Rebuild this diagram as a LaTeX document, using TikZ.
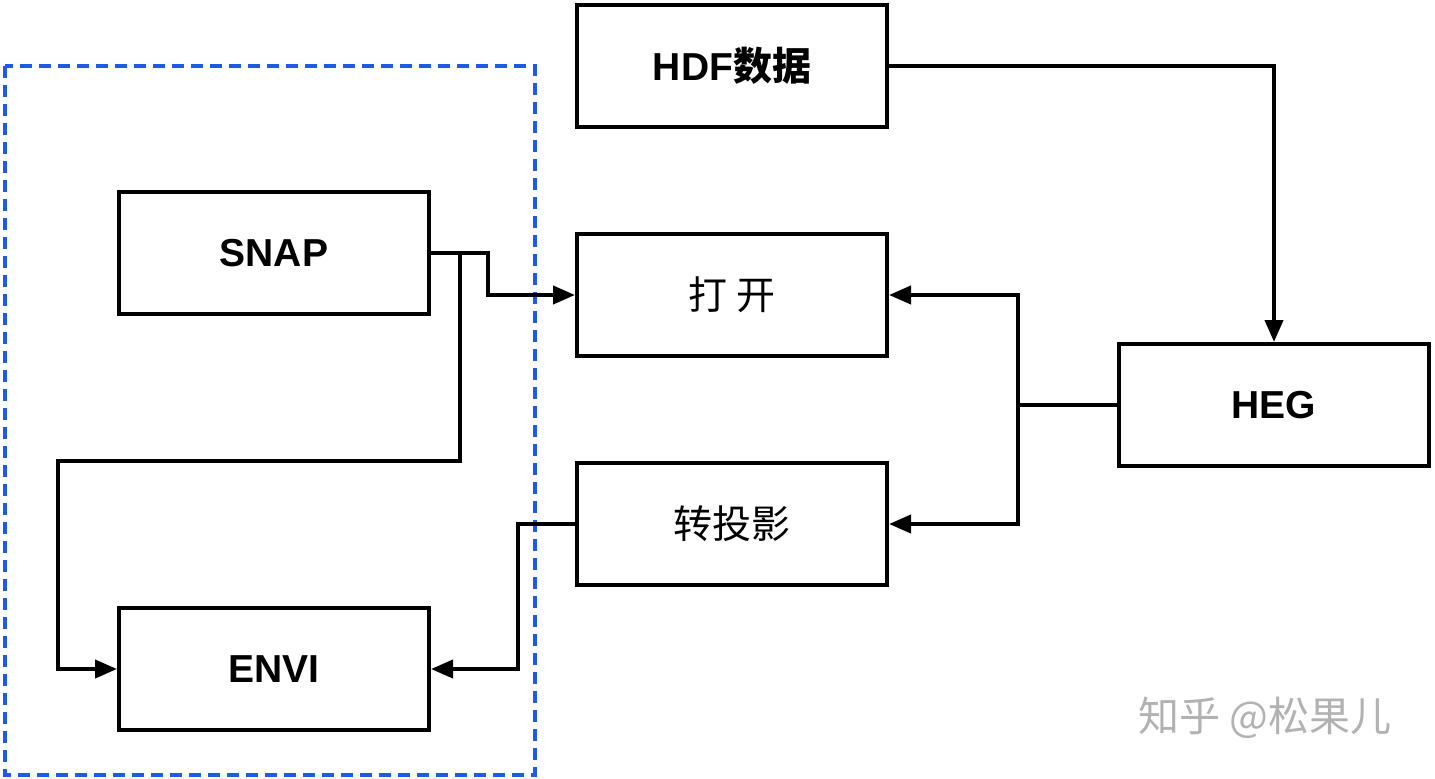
\documentclass[tikz,border=0pt]{standalone}
\usepackage{fontspec}
\setmainfont{Liberation Sans}
\newfontfamily\cjk{Noto Sans CJK SC}
\usetikzlibrary{arrows.meta}
\begin{document}
\begin{tikzpicture}[x=1pt,y=-1pt,
  box/.style={draw,line width=4pt,minimum width=310pt,minimum height=122pt,inner sep=0pt,font=\fontsize{39}{42}\selectfont\bfseries},
  cbox/.style={box,font=\fontsize{39}{42}\selectfont\cjk},
  ln/.style={line width=4pt},
  ar/.style={ln,-{Triangle[length=22pt,width=18pt]}}]
\useasboundingbox (0,0) rectangle (1435,779);
\draw[line width=4pt,dash pattern=on 12pt off 7pt,color={rgb,255:red,30;green,90;blue,230}] (5,66) rectangle (535,775);
\node[box] (hdf) at (732,66) {HDF{\cjk 数据}};
\node[box] (snap) at (274,253) {SNAP};
\node[cbox] (open) at (732,295) {打 开};
\node[box] (heg) at (1274,405) {HEG};
\node[cbox] (proj) at (732,524) {转投影};
\node[box] (envi) at (274,669) {ENVI};
\coordinate (s1) at (488,253);
\coordinate (s2) at (460,253);
\coordinate (h1) at (1018,405);
\coordinate (p1) at (518,524);
\draw[ar] (hdf.east) -| (heg.north);
\draw[ar] (snap.east) -- (s1) |- (open.west);
\draw[ar] (s2) -- (460,461) -- (58,461) |- (envi.west);
\draw[ln] (heg.west) -- (h1);
\draw[ar] (h1) |- (open.east);
\draw[ar] (h1) |- (proj.east);
\draw[ar] (proj.west) -- (p1) |- (envi.east);
\node[text=black!30,font=\fontsize{41}{44}\selectfont\cjk,anchor=center] (wm) at (1265,718) {知乎 @松果儿};
\end{tikzpicture}
\end{document}
